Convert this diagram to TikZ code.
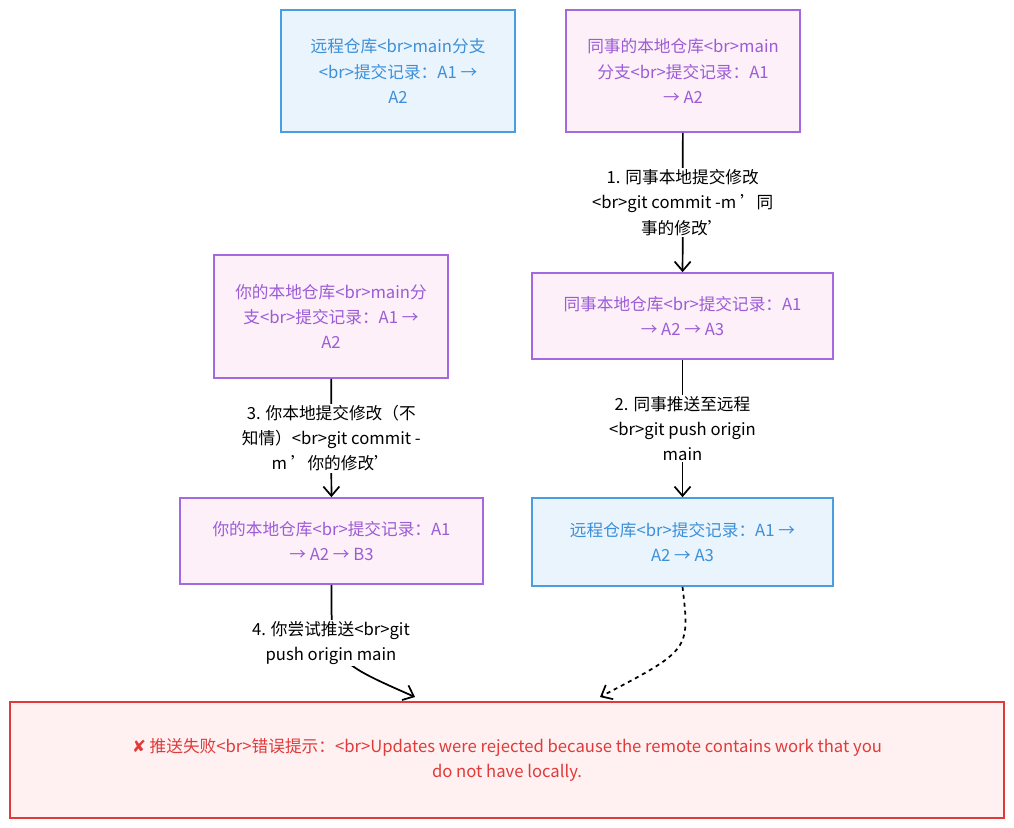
\documentclass[tikz,border=0pt]{standalone}
\usepackage{fontspec}
\setmainfont{Noto Sans CJK SC}
\usetikzlibrary{arrows.meta}
\definecolor{bbd}{HTML}{4A9DE0}\definecolor{bbf}{HTML}{EAF4FC}\definecolor{bbt}{HTML}{3C8FD8}
\definecolor{ppd}{HTML}{A468E0}\definecolor{ppf}{HTML}{FDF0F8}\definecolor{ppt}{HTML}{9B5CD6}
\definecolor{rrd}{HTML}{E03A3A}\definecolor{rrf}{HTML}{FFF1F1}
\tikzset{
 box/.style={draw,line width=1.2pt,inner sep=0pt,align=center,font=\fontsize{12.5}{19}\selectfont},
 blue/.style={box,draw=bbd,fill=bbf,text=bbt},
 purp/.style={box,draw=ppd,fill=ppf,text=ppt},
 lab/.style={fill=white,align=center,font=\fontsize{12.5}{19}\selectfont,inner sep=1pt},
 arr/.style={line width=1.3pt,-{Straight Barb[length=7pt,width=12pt]}}
}
\begin{document}
\begin{tikzpicture}[x=0.75pt,y=-0.75pt]
\useasboundingbox (0,0) rectangle (1014,828);
\node[blue,minimum width=234*0.75pt,minimum height=122*0.75pt] (r1) at (398,71) {远程仓库<br>main分支\\<br>提交记录：A1 →\\A2};
\node[purp,minimum width=234*0.75pt,minimum height=122*0.75pt] (c1) at (683,71) {同事的本地仓库<br>main\\分支<br>提交记录：A1\\→ A2};
\node[purp,minimum width=301*0.75pt,minimum height=86*0.75pt] (c2) at (682.5,316) {同事本地仓库<br>提交记录：A1\\→ A2 → A3};
\node[purp,minimum width=234*0.75pt,minimum height=123*0.75pt] (y1) at (331,316.5) {你的本地仓库<br>main分\\支<br>提交记录：A1 →\\A2};
\node[purp,minimum width=303*0.75pt,minimum height=86*0.75pt] (y2) at (331.5,541) {你的本地仓库<br>提交记录：A1\\→ A2 → B3};
\node[blue,minimum width=301*0.75pt,minimum height=88*0.75pt] (r2) at (682.5,542) {远程仓库<br>提交记录：A1 →\\A2 → A3};
\node[box,draw=rrd,fill=rrf,text=rrd,minimum width=994*0.75pt,minimum height=116*0.75pt] (err) at (507,760) {{\fontspec{DejaVu Sans}\textcolor{rrd}{✘}}\ 推送失败<br>错误提示：<br>Updates were rejected because the remote contains work that you\\do not have locally.};
\draw[arr] (c1) -- node[lab]{1. 同事本地提交修改\\<br>git commit -m '同\\事的修改'} (c2);
\draw[arr] (c2) -- node[lab]{2. 同事推送至远程\\<br>git push origin\\main} (r2);
\draw[arr] (y1) -- node[lab]{3. 你本地提交修改（不\\知情）<br>git commit -\\m '你的修改'} (y2);
\coordinate (e1) at (415,697);
\coordinate (e2) at (600,697);
\draw[arr] (y2.south) ++(0,0) coordinate (s4) .. controls (331,660) .. (e1);
\node[lab] at (331,643) {4. 你尝试推送<br>git\\push origin main};
\draw[arr,dashed] (r2.south) .. controls (690,650) .. (e2);
\end{tikzpicture}
\end{document}
